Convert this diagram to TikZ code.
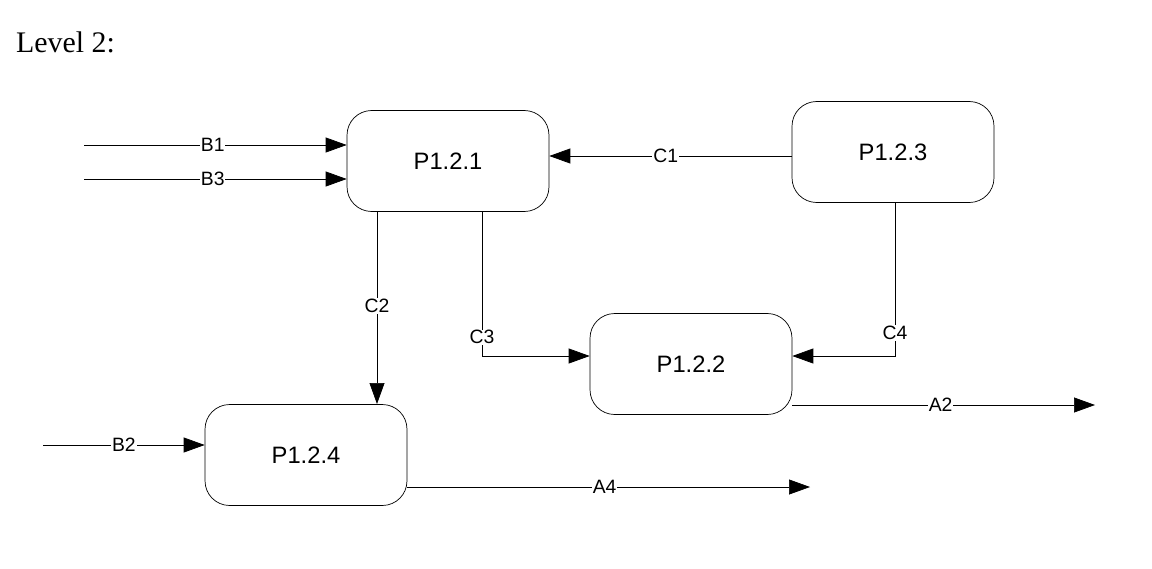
\documentclass[tikz,border=0pt]{standalone}
\usepackage{fontspec}
\setmainfont{Liberation Sans}
\newfontfamily\titlefont{Liberation Serif}
\usetikzlibrary{arrows.meta}
\begin{document}
\begin{tikzpicture}[x=0.02cm,y=-0.02cm,
    proc/.style={draw,rounded corners=14,minimum width=4.04cm,minimum height=2.02cm,font=\fontsize{13.5}{15}\selectfont},
    flow/.style={-{Triangle[length=0.42cm,width=0.3cm]}},
    lbl/.style={fill=white,inner sep=0.5pt,font=\fontsize{11}{12}\selectfont}]
    \useasboundingbox (0,0) rectangle (1152,568);
    \node[anchor=west,font=\titlefont\fontsize{17}{19}\selectfont] (title) at (10,42) {Level 2:};
    % processes
    \node[proc] (p121) at (448,161) {P1.2.1};
    \node[proc] (p123) at (893,152) {P1.2.3};
    \node[proc] (p122) at (691,364) {P1.2.2};
    \node[proc] (p124) at (306,455) {P1.2.4};
    % free ends
    \coordinate (b1) at (84,145);
    \coordinate (b3) at (84,179);
    \coordinate (b2) at (43,445);
    \coordinate (a2) at (1095,405);
    \coordinate (a4) at (810,487);
    % flows
    \draw[flow] (b1) -- node[lbl,pos=0.49]{B1} (b1 -| p121.west);
    \draw[flow] (b3) -- node[lbl,pos=0.49]{B3} (b3 -| p121.west);
    \draw[flow] (p123.west |- 0,156) -- node[lbl,pos=0.52]{C1} (p121.east |- 0,156);
    \draw[flow] (377,212) -- node[lbl,pos=0.49]{C2} (377,404);
    \draw[flow] (482,212) -- node[lbl,pos=0.87]{C3} (482,356) -- (p122.west |- 0,356);
    \draw[flow] (895,202) -- node[lbl,pos=0.85]{C4} (895,356) -- (p122.east |- 0,356);
    \draw[flow] (p122.south east |- a2) -- node[lbl,pos=0.49]{A2} (a2);
    \draw[flow] (b2) -- node[lbl,pos=0.5]{B2} (b2 -| p124.west);
    \draw[flow] (p124.east |- a4) -- node[lbl,pos=0.49]{A4} (a4);
\end{tikzpicture}
\end{document}
